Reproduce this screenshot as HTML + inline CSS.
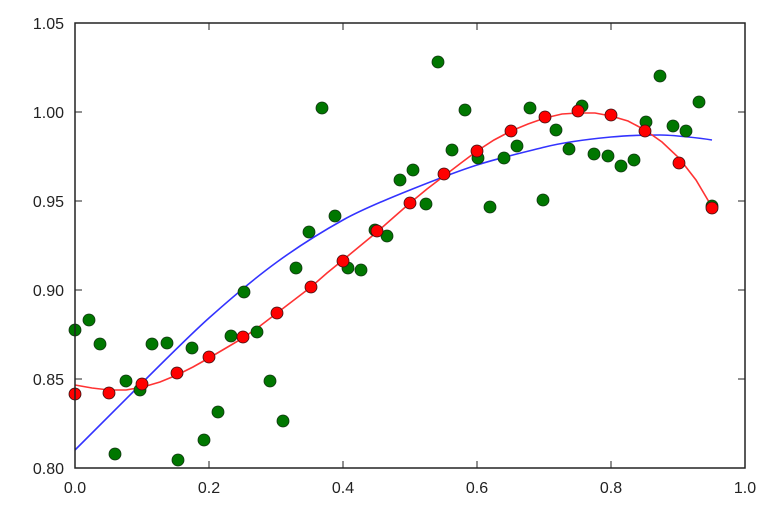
<!DOCTYPE html>
<html><head><meta charset="utf-8"><style>body{margin:0;background:#fff}</style></head><body>
<svg width="780" height="508" xmlns="http://www.w3.org/2000/svg" font-family="Liberation Sans, sans-serif" font-size="16" fill="#222">
<rect width="780" height="508" fill="#fff"/>
<g stroke="#222" stroke-width="1">
<line x1="75" y1="112" x2="82" y2="112"/><line x1="75" y1="201" x2="82" y2="201"/><line x1="75" y1="290" x2="82" y2="290"/><line x1="75" y1="379" x2="82" y2="379"/>
<line x1="745" y1="112" x2="738" y2="112"/><line x1="745" y1="201" x2="738" y2="201"/><line x1="745" y1="290" x2="738" y2="290"/><line x1="745" y1="379" x2="738" y2="379"/>
<line x1="209" y1="468" x2="209" y2="461"/><line x1="343" y1="468" x2="343" y2="461"/><line x1="477" y1="468" x2="477" y2="461"/><line x1="611" y1="468" x2="611" y2="461"/>
<line x1="209" y1="23" x2="209" y2="30"/><line x1="343" y1="23" x2="343" y2="30"/><line x1="477" y1="23" x2="477" y2="30"/><line x1="611" y1="23" x2="611" y2="30"/>
</g>
<g text-anchor="end">
<text x="64" y="29">1.05</text><text x="64" y="118">1.00</text><text x="64" y="207">0.95</text><text x="64" y="296">0.90</text><text x="64" y="385">0.85</text><text x="64" y="474">0.80</text>
</g>
<g text-anchor="middle">
<text x="75" y="493">0.0</text><text x="209" y="493">0.2</text><text x="343" y="493">0.4</text><text x="477" y="493">0.6</text><text x="611" y="493">0.8</text><text x="745" y="493">1.0</text>
</g>
<path d="M75,450 C105,420 125,400 142,383 S190,335 209,318 S255,278 277,262 S325,230 343,220 S390,198 410,190 S455,172 477,165 S525,152 545,147 S590,139 611,137 S648,135 660,135 S700,138 712,140" fill="none" stroke="#3333ff" stroke-width="1.6"/>
<polyline points="75,385 92,388 109,390 126,390 143,387 160,382 177,375 193,367 209,358 226,348 243,338 260,326 277,313 294,300 311,287 327,273 343,260 360,246 377,232 394,217 410,203 427,189 444,176 461,163 477,151 494,140 511,131 528,124 545,118 562,114 578,113 595,113 611,116 628,121 645,130 662,142 679,158 696,180 712,207" fill="none" stroke="#ff3333" stroke-width="1.6"/>
<g fill="#007700" stroke="#113311" stroke-width="0.8">
<circle cx="75" cy="330" r="6"/><circle cx="89" cy="320" r="6"/><circle cx="100" cy="344" r="6"/><circle cx="115" cy="454" r="6"/><circle cx="126" cy="381" r="6"/><circle cx="140" cy="390" r="6"/><circle cx="152" cy="344" r="6"/><circle cx="167" cy="343" r="6"/><circle cx="178" cy="460" r="6"/><circle cx="192" cy="348" r="6"/><circle cx="204" cy="440" r="6"/><circle cx="218" cy="412" r="6"/><circle cx="231" cy="336" r="6"/><circle cx="244" cy="292" r="6"/><circle cx="257" cy="332" r="6"/><circle cx="270" cy="381" r="6"/><circle cx="283" cy="421" r="6"/><circle cx="296" cy="268" r="6"/><circle cx="309" cy="232" r="6"/><circle cx="322" cy="108" r="6"/><circle cx="335" cy="216" r="6"/><circle cx="348" cy="268" r="6"/><circle cx="361" cy="270" r="6"/><circle cx="375" cy="230" r="6"/><circle cx="387" cy="236" r="6"/><circle cx="400" cy="180" r="6"/><circle cx="413" cy="170" r="6"/><circle cx="426" cy="204" r="6"/><circle cx="438" cy="62" r="6"/><circle cx="452" cy="150" r="6"/><circle cx="465" cy="110" r="6"/><circle cx="478" cy="158" r="6"/><circle cx="490" cy="207" r="6"/><circle cx="504" cy="158" r="6"/><circle cx="517" cy="146" r="6"/><circle cx="530" cy="108" r="6"/><circle cx="543" cy="200" r="6"/><circle cx="556" cy="130" r="6"/><circle cx="569" cy="149" r="6"/><circle cx="582" cy="106" r="6"/><circle cx="594" cy="154" r="6"/><circle cx="608" cy="156" r="6"/><circle cx="621" cy="166" r="6"/><circle cx="634" cy="160" r="6"/><circle cx="646" cy="122" r="6"/><circle cx="660" cy="76" r="6"/><circle cx="673" cy="126" r="6"/><circle cx="686" cy="131" r="6"/><circle cx="699" cy="102" r="6"/><circle cx="712" cy="206" r="6"/>
</g>
<g fill="#ff0000" stroke="#331111" stroke-width="0.8">
<circle cx="75" cy="394" r="6"/><circle cx="109" cy="393" r="6"/><circle cx="142" cy="384" r="6"/><circle cx="177" cy="373" r="6"/><circle cx="209" cy="357" r="6"/><circle cx="243" cy="337" r="6"/><circle cx="277" cy="313" r="6"/><circle cx="311" cy="287" r="6"/><circle cx="343" cy="261" r="6"/><circle cx="377" cy="231" r="6"/><circle cx="410" cy="203" r="6"/><circle cx="444" cy="174" r="6"/><circle cx="477" cy="151" r="6"/><circle cx="511" cy="131" r="6"/><circle cx="545" cy="117" r="6"/><circle cx="578" cy="111" r="6"/><circle cx="611" cy="115" r="6"/><circle cx="645" cy="131" r="6"/><circle cx="679" cy="163" r="6"/><circle cx="712" cy="208" r="6"/>
</g>
<rect x="75" y="23" width="670" height="445" fill="none" stroke="#222" stroke-width="1.5"/>
</svg>
</body></html>
